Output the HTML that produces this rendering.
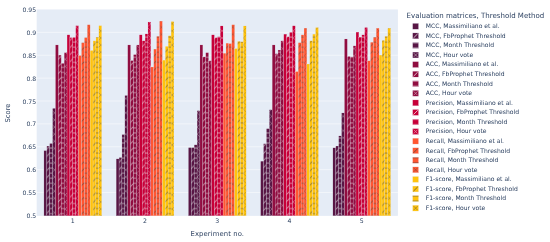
<!DOCTYPE html>
<html lang="en"><head><meta charset="utf-8"><title>Evaluation matrices by threshold method</title>
<style>html,body{margin:0;padding:0;background:#fff;}body{width:550px;height:242px;overflow:hidden;}svg{display:block;}text{font-family:"DejaVu Sans","Liberation Sans",sans-serif;fill:#2a3f5f;}</style></head><body>
<svg width="550" height="242" viewBox="0 0 550 242">
<defs><filter id="soft" x="0" y="0" width="100%" height="100%" filterUnits="userSpaceOnUse"><feGaussianBlur stdDeviation="0.3"/></filter>
<pattern id="p0_1" patternUnits="userSpaceOnUse" x="36.70" y="9.45" width="7.128" height="7.128"><rect width="7.128" height="7.128" fill="#581845"/><path d="M-1.782,1.782l3.564,-3.564M0,7.128L7.128,0M5.346,8.910l3.564,-3.564" stroke="#ffffff" stroke-width="1.008" opacity="0.5" fill="none"/></pattern>
<pattern id="p0_2" patternUnits="userSpaceOnUse" x="36.70" y="9.45" width="5.040" height="5.040"><rect width="5.040" height="5.040" fill="#581845"/><path d="M0,2.520L5.040,2.520" stroke="#ffffff" stroke-width="1.008" opacity="0.5" fill="none"/></pattern>
<pattern id="p0_3" patternUnits="userSpaceOnUse" x="36.70" y="9.45" width="7.128" height="7.128"><rect width="7.128" height="7.128" fill="#581845"/><path d="M-1.782,1.782l3.564,-3.564M0,7.128L7.128,0M5.346,8.910l3.564,-3.564M5.346,-1.782l3.564,3.564M0,0L7.128,7.128M-1.782,5.346l3.564,3.564" stroke="#ffffff" stroke-width="0.532" opacity="0.5" fill="none"/></pattern>
<pattern id="p1_1" patternUnits="userSpaceOnUse" x="36.70" y="9.45" width="7.128" height="7.128"><rect width="7.128" height="7.128" fill="#900C3F"/><path d="M-1.782,1.782l3.564,-3.564M0,7.128L7.128,0M5.346,8.910l3.564,-3.564" stroke="#ffffff" stroke-width="1.008" opacity="0.5" fill="none"/></pattern>
<pattern id="p1_2" patternUnits="userSpaceOnUse" x="36.70" y="9.45" width="5.040" height="5.040"><rect width="5.040" height="5.040" fill="#900C3F"/><path d="M0,2.520L5.040,2.520" stroke="#ffffff" stroke-width="1.008" opacity="0.5" fill="none"/></pattern>
<pattern id="p1_3" patternUnits="userSpaceOnUse" x="36.70" y="9.45" width="7.128" height="7.128"><rect width="7.128" height="7.128" fill="#900C3F"/><path d="M-1.782,1.782l3.564,-3.564M0,7.128L7.128,0M5.346,8.910l3.564,-3.564M5.346,-1.782l3.564,3.564M0,0L7.128,7.128M-1.782,5.346l3.564,3.564" stroke="#ffffff" stroke-width="0.532" opacity="0.5" fill="none"/></pattern>
<pattern id="p2_1" patternUnits="userSpaceOnUse" x="36.70" y="9.45" width="7.128" height="7.128"><rect width="7.128" height="7.128" fill="#C70039"/><path d="M-1.782,1.782l3.564,-3.564M0,7.128L7.128,0M5.346,8.910l3.564,-3.564" stroke="#ffffff" stroke-width="1.008" opacity="0.5" fill="none"/></pattern>
<pattern id="p2_2" patternUnits="userSpaceOnUse" x="36.70" y="9.45" width="5.040" height="5.040"><rect width="5.040" height="5.040" fill="#C70039"/><path d="M0,2.520L5.040,2.520" stroke="#ffffff" stroke-width="1.008" opacity="0.5" fill="none"/></pattern>
<pattern id="p2_3" patternUnits="userSpaceOnUse" x="36.70" y="9.45" width="7.128" height="7.128"><rect width="7.128" height="7.128" fill="#C70039"/><path d="M-1.782,1.782l3.564,-3.564M0,7.128L7.128,0M5.346,8.910l3.564,-3.564M5.346,-1.782l3.564,3.564M0,0L7.128,7.128M-1.782,5.346l3.564,3.564" stroke="#ffffff" stroke-width="0.532" opacity="0.5" fill="none"/></pattern>
<pattern id="p3_1" patternUnits="userSpaceOnUse" x="36.70" y="9.45" width="7.128" height="7.128"><rect width="7.128" height="7.128" fill="#FF5733"/><path d="M-1.782,1.782l3.564,-3.564M0,7.128L7.128,0M5.346,8.910l3.564,-3.564" stroke="#444444" stroke-width="1.008" opacity="0.5" fill="none"/></pattern>
<pattern id="p3_2" patternUnits="userSpaceOnUse" x="36.70" y="9.45" width="5.040" height="5.040"><rect width="5.040" height="5.040" fill="#FF5733"/><path d="M0,2.520L5.040,2.520" stroke="#444444" stroke-width="1.008" opacity="0.5" fill="none"/></pattern>
<pattern id="p3_3" patternUnits="userSpaceOnUse" x="36.70" y="9.45" width="7.128" height="7.128"><rect width="7.128" height="7.128" fill="#FF5733"/><path d="M-1.782,1.782l3.564,-3.564M0,7.128L7.128,0M5.346,8.910l3.564,-3.564M5.346,-1.782l3.564,3.564M0,0L7.128,7.128M-1.782,5.346l3.564,3.564" stroke="#444444" stroke-width="0.532" opacity="0.5" fill="none"/></pattern>
<pattern id="p4_1" patternUnits="userSpaceOnUse" x="36.70" y="9.45" width="7.128" height="7.128"><rect width="7.128" height="7.128" fill="#FFC30F"/><path d="M-1.782,1.782l3.564,-3.564M0,7.128L7.128,0M5.346,8.910l3.564,-3.564" stroke="#444444" stroke-width="1.008" opacity="0.5" fill="none"/></pattern>
<pattern id="p4_2" patternUnits="userSpaceOnUse" x="36.70" y="9.45" width="5.040" height="5.040"><rect width="5.040" height="5.040" fill="#FFC30F"/><path d="M0,2.520L5.040,2.520" stroke="#444444" stroke-width="1.008" opacity="0.5" fill="none"/></pattern>
<pattern id="p4_3" patternUnits="userSpaceOnUse" x="36.70" y="9.45" width="7.128" height="7.128"><rect width="7.128" height="7.128" fill="#FFC30F"/><path d="M-1.782,1.782l3.564,-3.564M0,7.128L7.128,0M5.346,8.910l3.564,-3.564M5.346,-1.782l3.564,3.564M0,0L7.128,7.128M-1.782,5.346l3.564,3.564" stroke="#444444" stroke-width="0.532" opacity="0.5" fill="none"/></pattern>
</defs>
<g filter="url(#soft)"><rect width="550" height="242" fill="#ffffff"/>
<rect x="36.70" y="9.45" width="361.20" height="206.40" fill="#E5ECF6"/>
<path d="M36.70,32.34H397.90" stroke="#ffffff" stroke-width="0.5"/>
<path d="M36.70,55.23H397.90" stroke="#ffffff" stroke-width="0.5"/>
<path d="M36.70,78.12H397.90" stroke="#ffffff" stroke-width="0.5"/>
<path d="M36.70,101.01H397.90" stroke="#ffffff" stroke-width="0.5"/>
<path d="M36.70,123.90H397.90" stroke="#ffffff" stroke-width="0.5"/>
<path d="M36.70,146.79H397.90" stroke="#ffffff" stroke-width="0.5"/>
<path d="M36.70,169.68H397.90" stroke="#ffffff" stroke-width="0.5"/>
<path d="M36.70,192.57H397.90" stroke="#ffffff" stroke-width="0.5"/>
<g stroke="#E5ECF6" stroke-width="0.2">
<rect x="43.92" y="150.60" width="2.89" height="65.25" fill="#581845"/>
<rect x="46.81" y="146.00" width="2.89" height="69.85" fill="url(#p0_1)"/>
<rect x="49.70" y="143.24" width="2.89" height="72.61" fill="url(#p0_2)"/>
<rect x="52.59" y="108.33" width="2.89" height="107.52" fill="url(#p0_3)"/>
<rect x="55.48" y="44.93" width="2.89" height="170.92" fill="#900C3F"/>
<rect x="58.37" y="55.04" width="2.89" height="160.81" fill="url(#p1_1)"/>
<rect x="61.26" y="63.31" width="2.89" height="152.54" fill="url(#p1_2)"/>
<rect x="64.15" y="52.51" width="2.89" height="163.34" fill="url(#p1_3)"/>
<rect x="67.04" y="34.83" width="2.89" height="181.02" fill="#C70039"/>
<rect x="69.93" y="37.58" width="2.89" height="178.27" fill="url(#p2_1)"/>
<rect x="72.82" y="37.12" width="2.89" height="178.73" fill="url(#p2_2)"/>
<rect x="75.71" y="25.64" width="2.89" height="190.21" fill="url(#p2_3)"/>
<rect x="78.60" y="55.50" width="2.89" height="160.35" fill="#FF5733"/>
<rect x="81.49" y="42.64" width="2.89" height="173.21" fill="url(#p3_1)"/>
<rect x="84.38" y="37.58" width="2.89" height="178.27" fill="url(#p3_2)"/>
<rect x="87.27" y="24.72" width="2.89" height="191.13" fill="url(#p3_3)"/>
<rect x="90.16" y="50.45" width="2.89" height="165.40" fill="#FFC30F"/>
<rect x="93.05" y="40.80" width="2.89" height="175.05" fill="url(#p4_1)"/>
<rect x="95.94" y="37.12" width="2.89" height="178.73" fill="url(#p4_2)"/>
<rect x="98.83" y="25.64" width="2.89" height="190.21" fill="url(#p4_3)"/>
<rect x="116.16" y="158.86" width="2.89" height="56.99" fill="#581845"/>
<rect x="119.05" y="157.49" width="2.89" height="58.36" fill="url(#p0_1)"/>
<rect x="121.94" y="134.52" width="2.89" height="81.33" fill="url(#p0_2)"/>
<rect x="124.83" y="95.47" width="2.89" height="120.38" fill="url(#p0_3)"/>
<rect x="127.72" y="44.93" width="2.89" height="170.92" fill="#900C3F"/>
<rect x="130.61" y="60.55" width="2.89" height="155.30" fill="url(#p1_1)"/>
<rect x="133.50" y="54.58" width="2.89" height="161.27" fill="url(#p1_2)"/>
<rect x="136.39" y="44.93" width="2.89" height="170.92" fill="url(#p1_3)"/>
<rect x="139.28" y="34.83" width="2.89" height="181.02" fill="#C70039"/>
<rect x="142.17" y="40.80" width="2.89" height="175.05" fill="url(#p2_1)"/>
<rect x="145.06" y="33.91" width="2.89" height="181.94" fill="url(#p2_2)"/>
<rect x="147.95" y="21.96" width="2.89" height="193.89" fill="url(#p2_3)"/>
<rect x="150.84" y="66.98" width="2.89" height="148.87" fill="#FF5733"/>
<rect x="153.73" y="49.07" width="2.89" height="166.78" fill="url(#p3_1)"/>
<rect x="156.62" y="36.20" width="2.89" height="179.65" fill="url(#p3_2)"/>
<rect x="159.51" y="21.04" width="2.89" height="194.81" fill="url(#p3_3)"/>
<rect x="162.40" y="60.09" width="2.89" height="155.76" fill="#FFC30F"/>
<rect x="165.29" y="46.31" width="2.89" height="169.54" fill="url(#p4_1)"/>
<rect x="168.18" y="35.75" width="2.89" height="180.10" fill="url(#p4_2)"/>
<rect x="171.07" y="21.50" width="2.89" height="194.35" fill="url(#p4_3)"/>
<rect x="188.40" y="147.61" width="2.89" height="68.24" fill="#581845"/>
<rect x="191.29" y="147.61" width="2.89" height="68.24" fill="url(#p0_1)"/>
<rect x="194.18" y="144.81" width="2.89" height="71.04" fill="url(#p0_2)"/>
<rect x="197.07" y="110.63" width="2.89" height="105.22" fill="url(#p0_3)"/>
<rect x="199.96" y="44.93" width="2.89" height="170.92" fill="#900C3F"/>
<rect x="202.85" y="56.88" width="2.89" height="158.97" fill="url(#p1_1)"/>
<rect x="205.74" y="52.51" width="2.89" height="163.34" fill="url(#p1_2)"/>
<rect x="208.63" y="60.78" width="2.89" height="155.07" fill="url(#p1_3)"/>
<rect x="211.52" y="34.83" width="2.89" height="181.02" fill="#C70039"/>
<rect x="214.41" y="37.58" width="2.89" height="178.27" fill="url(#p2_1)"/>
<rect x="217.30" y="36.66" width="2.89" height="179.19" fill="url(#p2_2)"/>
<rect x="220.19" y="25.91" width="2.89" height="189.94" fill="url(#p2_3)"/>
<rect x="223.08" y="53.20" width="2.89" height="162.65" fill="#FF5733"/>
<rect x="225.97" y="43.10" width="2.89" height="172.75" fill="url(#p3_1)"/>
<rect x="228.86" y="43.55" width="2.89" height="172.30" fill="url(#p3_2)"/>
<rect x="231.75" y="24.72" width="2.89" height="191.13" fill="url(#p3_3)"/>
<rect x="234.64" y="48.61" width="2.89" height="167.24" fill="#FFC30F"/>
<rect x="237.53" y="41.26" width="2.89" height="174.59" fill="url(#p4_1)"/>
<rect x="240.42" y="41.72" width="2.89" height="174.13" fill="url(#p4_2)"/>
<rect x="243.31" y="25.91" width="2.89" height="189.94" fill="url(#p4_3)"/>
<rect x="260.64" y="161.16" width="2.89" height="54.69" fill="#581845"/>
<rect x="263.53" y="143.70" width="2.89" height="72.15" fill="url(#p0_1)"/>
<rect x="266.42" y="128.54" width="2.89" height="87.31" fill="url(#p0_2)"/>
<rect x="269.31" y="109.71" width="2.89" height="106.14" fill="url(#p0_3)"/>
<rect x="272.20" y="44.93" width="2.89" height="170.92" fill="#900C3F"/>
<rect x="275.09" y="53.66" width="2.89" height="162.19" fill="url(#p1_1)"/>
<rect x="277.98" y="49.99" width="2.89" height="165.86" fill="url(#p1_2)"/>
<rect x="280.87" y="40.80" width="2.89" height="175.05" fill="url(#p1_3)"/>
<rect x="283.76" y="34.09" width="2.89" height="181.76" fill="#C70039"/>
<rect x="286.65" y="36.66" width="2.89" height="179.19" fill="url(#p2_1)"/>
<rect x="289.54" y="32.07" width="2.89" height="183.78" fill="url(#p2_2)"/>
<rect x="292.43" y="25.78" width="2.89" height="190.07" fill="url(#p2_3)"/>
<rect x="295.32" y="71.58" width="2.89" height="144.27" fill="#FF5733"/>
<rect x="298.21" y="42.64" width="2.89" height="173.21" fill="url(#p3_1)"/>
<rect x="301.10" y="34.83" width="2.89" height="181.02" fill="url(#p3_2)"/>
<rect x="303.99" y="28.07" width="2.89" height="187.78" fill="url(#p3_3)"/>
<rect x="306.88" y="64.00" width="2.89" height="151.85" fill="#FFC30F"/>
<rect x="309.77" y="40.80" width="2.89" height="175.05" fill="url(#p4_1)"/>
<rect x="312.66" y="34.09" width="2.89" height="181.76" fill="url(#p4_2)"/>
<rect x="315.55" y="27.48" width="2.89" height="188.37" fill="url(#p4_3)"/>
<rect x="332.88" y="147.84" width="2.89" height="68.01" fill="#581845"/>
<rect x="335.77" y="146.00" width="2.89" height="69.85" fill="url(#p0_1)"/>
<rect x="338.66" y="135.89" width="2.89" height="79.96" fill="url(#p0_2)"/>
<rect x="341.55" y="112.92" width="2.89" height="102.93" fill="url(#p0_3)"/>
<rect x="344.44" y="38.96" width="2.89" height="176.89" fill="#900C3F"/>
<rect x="347.33" y="56.42" width="2.89" height="159.43" fill="url(#p1_1)"/>
<rect x="350.22" y="56.88" width="2.89" height="158.97" fill="url(#p1_2)"/>
<rect x="353.11" y="45.85" width="2.89" height="170.00" fill="url(#p1_3)"/>
<rect x="356.00" y="32.07" width="2.89" height="183.78" fill="#C70039"/>
<rect x="358.89" y="37.12" width="2.89" height="178.73" fill="url(#p2_1)"/>
<rect x="361.78" y="34.83" width="2.89" height="181.02" fill="url(#p2_2)"/>
<rect x="364.67" y="27.48" width="2.89" height="188.37" fill="url(#p2_3)"/>
<rect x="367.56" y="60.78" width="2.89" height="155.07" fill="#FF5733"/>
<rect x="370.45" y="42.18" width="2.89" height="173.67" fill="url(#p3_1)"/>
<rect x="373.34" y="37.12" width="2.89" height="178.73" fill="url(#p3_2)"/>
<rect x="376.23" y="28.07" width="2.89" height="187.78" fill="url(#p3_3)"/>
<rect x="379.12" y="55.04" width="2.89" height="160.81" fill="#FFC30F"/>
<rect x="382.01" y="40.34" width="2.89" height="175.51" fill="url(#p4_1)"/>
<rect x="384.90" y="36.20" width="2.89" height="179.65" fill="url(#p4_2)"/>
<rect x="387.79" y="28.07" width="2.89" height="187.78" fill="url(#p4_3)"/>
</g>
<text x="36.1" y="12.00" text-anchor="end" font-size="6.1">0.95</text>
<text x="36.1" y="34.89" text-anchor="end" font-size="6.1">0.9</text>
<text x="36.1" y="57.78" text-anchor="end" font-size="6.1">0.85</text>
<text x="36.1" y="80.67" text-anchor="end" font-size="6.1">0.8</text>
<text x="36.1" y="103.56" text-anchor="end" font-size="6.1">0.75</text>
<text x="36.1" y="126.45" text-anchor="end" font-size="6.1">0.7</text>
<text x="36.1" y="149.34" text-anchor="end" font-size="6.1">0.65</text>
<text x="36.1" y="172.23" text-anchor="end" font-size="6.1">0.6</text>
<text x="36.1" y="195.12" text-anchor="end" font-size="6.1">0.55</text>
<text x="36.1" y="218.01" text-anchor="end" font-size="6.1">0.5</text>
<text x="72.82" y="223.0" text-anchor="middle" font-size="6.2">1</text>
<text x="145.06" y="223.0" text-anchor="middle" font-size="6.2">2</text>
<text x="217.30" y="223.0" text-anchor="middle" font-size="6.2">3</text>
<text x="289.54" y="223.0" text-anchor="middle" font-size="6.2">4</text>
<text x="361.78" y="223.0" text-anchor="middle" font-size="6.2">5</text>
<text x="217.30" y="236" text-anchor="middle" font-size="6.85" textLength="53.5" lengthAdjust="spacing">Experiment no.</text>
<text transform="translate(10.1,113.0) rotate(-90)" text-anchor="middle" font-size="6.8">Score</text>
<text x="406.6" y="18.45" font-size="7.26" textLength="137.6" lengthAdjust="spacingAndGlyphs">Evaluation matrices, Threshold Method</text>
<rect x="412.65" y="23.35" width="5.90" height="5.90" fill="#581845" stroke="#E5ECF6" stroke-width="0.25"/>
<text x="425.8" y="28.20" font-size="6.05">MCC, Massimiliano et al.</text>
<rect x="412.65" y="32.92" width="5.90" height="5.90" fill="#581845" stroke="#E5ECF6" stroke-width="0.25"/>
<path d="M413.45,38.02L417.75,33.72" stroke="#ffffff" stroke-width="1.0" opacity="0.7"/>
<text x="425.8" y="37.77" font-size="6.05">MCC, FbProphet Threshold</text>
<rect x="412.65" y="42.49" width="5.90" height="5.90" fill="#581845" stroke="#E5ECF6" stroke-width="0.25"/>
<path d="M412.65,43.09H418.55M412.65,47.79H418.55" stroke="#ffffff" stroke-width="0.9" opacity="0.45"/>
<text x="425.8" y="47.34" font-size="6.05">MCC, Month Threshold</text>
<rect x="412.65" y="52.06" width="5.90" height="5.90" fill="#581845" stroke="#E5ECF6" stroke-width="0.25"/>
<path d="M413.65,56.96L417.55,53.06M413.65,53.06L417.55,56.96" stroke="#ffffff" stroke-width="0.7" opacity="0.6"/>
<text x="425.8" y="56.91" font-size="6.05">MCC, Hour vote</text>
<rect x="412.65" y="61.63" width="5.90" height="5.90" fill="#900C3F" stroke="#E5ECF6" stroke-width="0.25"/>
<text x="425.8" y="66.48" font-size="6.05">ACC, Massimiliano et al.</text>
<rect x="412.65" y="71.20" width="5.90" height="5.90" fill="#900C3F" stroke="#E5ECF6" stroke-width="0.25"/>
<path d="M413.45,76.30L417.75,72.00" stroke="#ffffff" stroke-width="1.0" opacity="0.7"/>
<text x="425.8" y="76.05" font-size="6.05">ACC, FbProphet Threshold</text>
<rect x="412.65" y="80.77" width="5.90" height="5.90" fill="#900C3F" stroke="#E5ECF6" stroke-width="0.25"/>
<path d="M412.65,81.37H418.55M412.65,86.07H418.55" stroke="#ffffff" stroke-width="0.9" opacity="0.45"/>
<text x="425.8" y="85.62" font-size="6.05">ACC, Month Threshold</text>
<rect x="412.65" y="90.34" width="5.90" height="5.90" fill="#900C3F" stroke="#E5ECF6" stroke-width="0.25"/>
<path d="M413.65,95.24L417.55,91.34M413.65,91.34L417.55,95.24" stroke="#ffffff" stroke-width="0.7" opacity="0.6"/>
<text x="425.8" y="95.19" font-size="6.05">ACC, Hour vote</text>
<rect x="412.65" y="99.91" width="5.90" height="5.90" fill="#C70039" stroke="#E5ECF6" stroke-width="0.25"/>
<text x="425.8" y="104.76" font-size="6.05">Precision, Massimiliano et al.</text>
<rect x="412.65" y="109.48" width="5.90" height="5.90" fill="#C70039" stroke="#E5ECF6" stroke-width="0.25"/>
<path d="M413.45,114.58L417.75,110.28" stroke="#ffffff" stroke-width="1.0" opacity="0.7"/>
<text x="425.8" y="114.33" font-size="6.05">Precision, FbProphet Threshold</text>
<rect x="412.65" y="119.05" width="5.90" height="5.90" fill="#C70039" stroke="#E5ECF6" stroke-width="0.25"/>
<path d="M412.65,119.65H418.55M412.65,124.35H418.55" stroke="#ffffff" stroke-width="0.9" opacity="0.45"/>
<text x="425.8" y="123.90" font-size="6.05">Precision, Month Threshold</text>
<rect x="412.65" y="128.62" width="5.90" height="5.90" fill="#C70039" stroke="#E5ECF6" stroke-width="0.25"/>
<path d="M413.65,133.52L417.55,129.62M413.65,129.62L417.55,133.52" stroke="#ffffff" stroke-width="0.7" opacity="0.6"/>
<text x="425.8" y="133.47" font-size="6.05">Precision, Hour vote</text>
<rect x="412.65" y="138.19" width="5.90" height="5.90" fill="#FF5733" stroke="#E5ECF6" stroke-width="0.25"/>
<text x="425.8" y="143.04" font-size="6.05">Recall, Massimiliano et al.</text>
<rect x="412.65" y="147.76" width="5.90" height="5.90" fill="#FF5733" stroke="#E5ECF6" stroke-width="0.25"/>
<path d="M413.45,152.86L417.75,148.56" stroke="#444444" stroke-width="1.0" opacity="0.7"/>
<text x="425.8" y="152.61" font-size="6.05">Recall, FbProphet Threshold</text>
<rect x="412.65" y="157.33" width="5.90" height="5.90" fill="#FF5733" stroke="#E5ECF6" stroke-width="0.25"/>
<path d="M412.65,157.93H418.55M412.65,162.63H418.55" stroke="#444444" stroke-width="0.9" opacity="0.45"/>
<text x="425.8" y="162.18" font-size="6.05">Recall, Month Threshold</text>
<rect x="412.65" y="166.90" width="5.90" height="5.90" fill="#FF5733" stroke="#E5ECF6" stroke-width="0.25"/>
<path d="M413.65,171.80L417.55,167.90M413.65,167.90L417.55,171.80" stroke="#444444" stroke-width="0.7" opacity="0.6"/>
<text x="425.8" y="171.75" font-size="6.05">Recall, Hour vote</text>
<rect x="412.65" y="176.47" width="5.90" height="5.90" fill="#FFC30F" stroke="#E5ECF6" stroke-width="0.25"/>
<text x="425.8" y="181.32" font-size="6.05">F1-score, Massimiliano et al.</text>
<rect x="412.65" y="186.04" width="5.90" height="5.90" fill="#FFC30F" stroke="#E5ECF6" stroke-width="0.25"/>
<path d="M413.45,191.14L417.75,186.84" stroke="#444444" stroke-width="1.0" opacity="0.7"/>
<text x="425.8" y="190.89" font-size="6.05">F1-score, FbProphet Threshold</text>
<rect x="412.65" y="195.61" width="5.90" height="5.90" fill="#FFC30F" stroke="#E5ECF6" stroke-width="0.25"/>
<path d="M412.65,196.21H418.55M412.65,200.91H418.55" stroke="#444444" stroke-width="0.9" opacity="0.45"/>
<text x="425.8" y="200.46" font-size="6.05">F1-score, Month Threshold</text>
<rect x="412.65" y="205.18" width="5.90" height="5.90" fill="#FFC30F" stroke="#E5ECF6" stroke-width="0.25"/>
<path d="M413.65,210.08L417.55,206.18M413.65,206.18L417.55,210.08" stroke="#444444" stroke-width="0.7" opacity="0.6"/>
<text x="425.8" y="210.03" font-size="6.05">F1-score, Hour vote</text>
</g></svg></body></html>
